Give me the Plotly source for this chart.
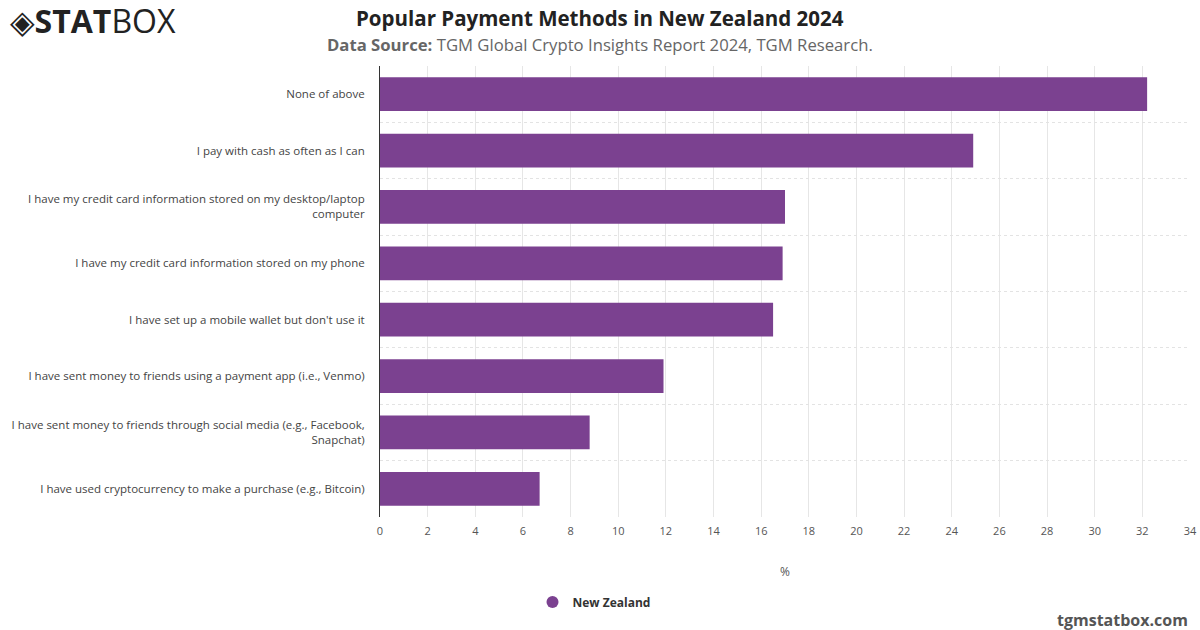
import plotly.graph_objects as go

categories = [
    "None of above",
    "I pay with cash as often as I can",
    "I have my credit card information stored on my desktop/laptop<br>computer",
    "I have my credit card information stored on my phone",
    "I have set up a mobile wallet but don't use it",
    "I have sent money to friends using a payment app (i.e., Venmo)",
    "I have sent money to friends through social media (e.g., Facebook,<br>Snapchat)",
    "I have used cryptocurrency to make a purchase (e.g., Bitcoin)",
]
values = [32.2, 24.9, 17.0, 16.9, 16.5, 11.9, 8.8, 6.7]
series_name = "New Zealand"
x_ticks = list(range(0, 35, 2))

BAR = "#7B4190"
FONT = "Open Sans, DejaVu Sans, sans-serif"

W, H = 1200, 630
PL, PR, PT, PB = 380, 10, 66, 113
pw = W - PL - PR
ph = H - PT - PB


def xpix(px):
    return (px - PL) / pw


def ypix(py):
    return (H - PB - py) / ph


fig = go.Figure()
fig.add_trace(go.Bar(
    y=categories, x=values, orientation="h",
    marker=dict(color=BAR, line=dict(width=0)),
    showlegend=False, name=series_name,
))
fig.add_trace(go.Scatter(
    x=[None], y=[None], mode="markers", name=series_name,
    marker=dict(symbol="circle", size=12, color=BAR),
))

fig.update_layout(
    width=W, height=H,
    margin=dict(l=PL, r=PR, t=PT, b=PB),
    paper_bgcolor="white", plot_bgcolor="white",
    font=dict(family=FONT, color="#555", size=11),
    bargap=0.4,
    showlegend=True,
    legend=dict(orientation="h", x=xpix(594), xanchor="center", y=ypix(602), yanchor="middle",
                font=dict(size=12, color="#333", family=FONT, weight="bold"), itemsizing="constant"),
    xaxis=dict(
        range=[0, 34], tickvals=x_ticks, ticktext=[str(t) for t in x_ticks],
        showgrid=True, gridcolor="#e6e6e6", gridwidth=1, griddash="solid",
        zeroline=False, showline=False,
        ticks="", ticklabelstandoff=6,
        tickfont=dict(size=11, color="#555"),
        title=dict(text="%", font=dict(size=12, color="#555"), standoff=30),
        automargin=False, fixedrange=True,
    ),
    yaxis=dict(
        autorange="reversed", type="category",
        tickson="boundaries",
        showgrid=True, gridcolor="#e3e3e3", griddash="dot", gridwidth=1,
        showline=True, linecolor="#333", linewidth=1,
        ticks="", ticklen=0, ticklabelstandoff=12,
        tickfont=dict(size=11.5, color="#444"),
        automargin=False, fixedrange=True,
    ),
)

fig.add_annotation(
    text="<b>Popular Payment Methods in New Zealand 2024</b>",
    xref="paper", yref="paper", x=xpix(600), y=ypix(18), xanchor="center", yanchor="middle",
    showarrow=False, font=dict(size=20.5, color="#222", family=FONT),
)
fig.add_annotation(
    text="<b>Data Source:</b> TGM Global Crypto Insights Report 2024, TGM Research.",
    xref="paper", yref="paper", x=xpix(600), y=ypix(45), xanchor="center", yanchor="middle",
    showarrow=False, font=dict(size=16.7, color="#666", family=FONT),
)
fig.add_annotation(
    text="<b>tgmstatbox.com</b>",
    xref="paper", yref="paper", x=xpix(1190), y=ypix(620), xanchor="right", yanchor="middle",
    showarrow=False, font=dict(size=16, color="#555", family=FONT),
)
fig.add_annotation(
    text="<b>◈STAT</b>BOX",
    xref="paper", yref="paper", x=xpix(8), y=ypix(21), xanchor="left", yanchor="middle",
    showarrow=False, font=dict(size=32, color="#222", family=FONT),
)

fig.write_html(
    "out.html",
    config={"displayModeBar": False},
    post_script="document.body.style.margin='0';document.body.style.overflow='hidden';",
)
